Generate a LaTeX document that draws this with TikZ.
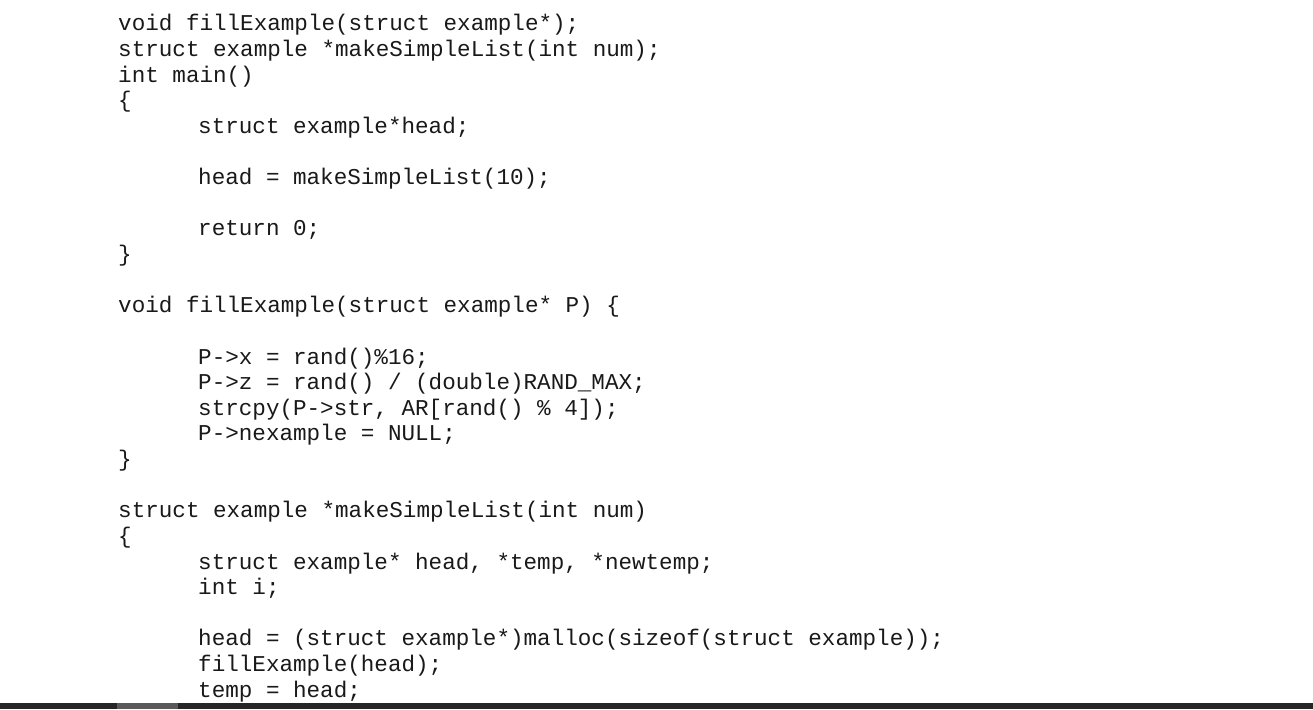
\documentclass[tikz,border=0pt]{standalone}
\usepackage{fontspec}
\setmonofont{Liberation Mono}
\begin{document}
\begin{tikzpicture}[x=1pt,y=-1pt,
  code/.style={anchor=base west,inner sep=0pt,font=\ttfamily\fontsize{22.6}{25}\selectfont,text=black!90}]
\useasboundingbox (0,0) rectangle (1313,709);
\fill[white] (0,0) rectangle (1313,709);
\fill[black!85] (0,703) rectangle (1313,709);
\fill[black!65] (117,703) rectangle (178,709);
\def\L#1#2#3{\node[code] (l#1) at (#2,{31+25.62*#1}) {#3};}
\L{0}{118}{void fillExample(struct example*);}
\L{1}{118}{struct example *makeSimpleList(int num);}
\L{2}{118}{int main()}
\L{3}{118}{\{}
\L{4}{198}{struct example*head;}
\L{6}{198}{head = makeSimpleList(10);}
\L{8}{198}{return 0;}
\L{9}{118}{\}}
\L{11}{118}{void fillExample(struct example* P) \{}
\L{13}{198}{P->x = rand()\%16;}
\L{14}{198}{P->z = rand() / (double)RAND\_MAX;}
\L{15}{198}{strcpy(P->str, AR[rand() \% 4]);}
\L{16}{198}{P->nexample = NULL;}
\L{17}{118}{\}}
\L{19}{118}{struct example *makeSimpleList(int num)}
\L{20}{118}{\{}
\L{21}{198}{struct example* head, *temp, *newtemp;}
\L{22}{198}{int i;}
\L{24}{198}{head = (struct example*)malloc(sizeof(struct example));}
\L{25}{198}{fillExample(head);}
\L{26}{198}{temp = head;}
\end{tikzpicture}
\end{document}
